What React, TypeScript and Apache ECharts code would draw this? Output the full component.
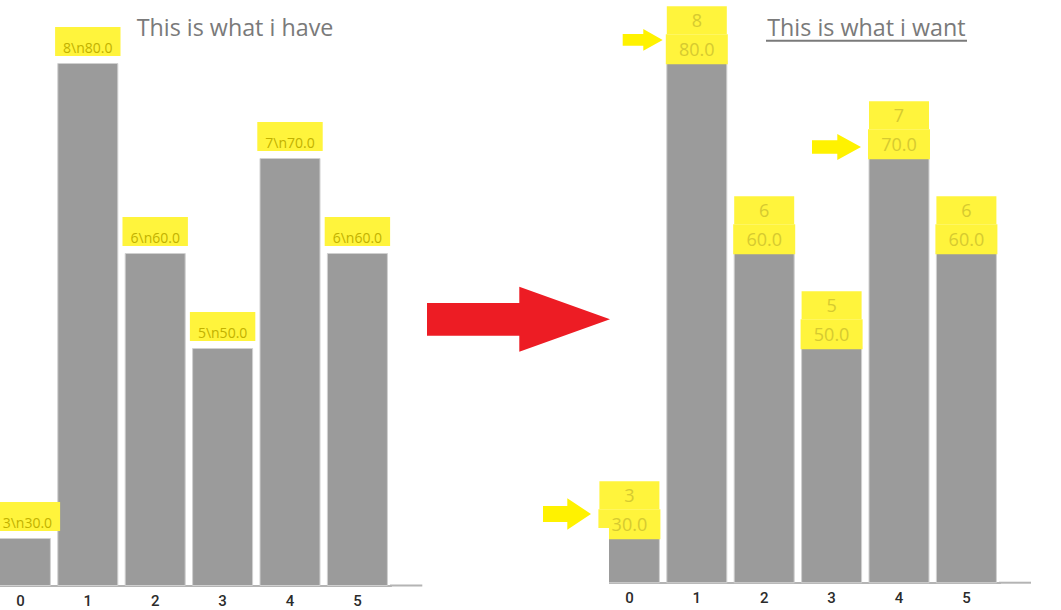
import React, { useEffect, useRef } from "react";
import * as echarts from "echarts";

const categories = ["0", "1", "2", "3", "4", "5"];
const values = [30, 80, 60, 50, 70, 60];
const counts = [3, 8, 6, 5, 7, 6];
const titleLeft = "This is what i have";
const titleRight = "This is what i want";

const BAR = "#9b9b9b";
const HL = "#fff43c";
const AXIS = "#b4b4b4";
const FONT = "'Open Sans', 'Noto Sans', sans-serif";
const OX = 40; // chart div extends 40px beyond the left edge of the page

export default function App() {
  const ref = useRef<HTMLDivElement>(null);
  useEffect(() => {
    if (!ref.current) return;
    const chart = echarts.init(ref.current, undefined, { renderer: "svg" });
    const xAxisBase = {
      type: "category",
      data: categories,
      boundaryGap: true,
      axisTick: { show: false },
      axisLine: { lineStyle: { color: AXIS, width: 2 } },
      axisLabel: { margin: 8, color: "#2b2b2b", fontSize: 15, fontWeight: 500, fontFamily: "Roboto, sans-serif" },
    };
    const yAxisBase = { type: "value", min: 25, max: 85, show: false, splitLine: { show: false } };
    const yellowArrow = (x0: number, x1: number, x2: number, cy: number, sh: number, hh: number) => ({
      type: "polygon",
      z: 100,
      shape: {
        points: [
          [x0 + OX, cy - sh], [x1 + OX, cy - sh], [x1 + OX, cy - hh], [x2 + OX, cy],
          [x1 + OX, cy + hh], [x1 + OX, cy + sh], [x0 + OX, cy + sh],
        ],
      },
      style: { fill: "#fff200" },
    });
    // first label of the left chart sits at the page edge: nudge it so it stays readable
    const leftData = values.map((v, i) => (i === 0 ? { value: v, label: { offset: [7, 0] } } : v));
    chart.setOption({
      animation: false,
      grid: [
        { left: -13.3 + OX, width: 404.4, top: 15.5, height: 570 },
        { left: 595.7 + OX, width: 404.4, top: 12.7, height: 570 },
      ],
      xAxis: [
        { ...xAxisBase, gridIndex: 0 },
        { ...xAxisBase, gridIndex: 1 },
      ],
      yAxis: [
        { ...yAxisBase, gridIndex: 0 },
        { ...yAxisBase, gridIndex: 1 },
      ],
      series: [
        {
          type: "bar",
          xAxisIndex: 0,
          yAxisIndex: 0,
          data: leftData,
          barWidth: 61,
          itemStyle: { color: BAR, borderColor: "#d0d0d0", borderWidth: 1 },
          label: {
            show: true,
            position: "top",
            distance: 7,
            formatter: (p: any) => counts[p.dataIndex] + "\\n" + values[p.dataIndex].toFixed(1),
            color: "#c2b100",
            fontSize: 14,
            fontFamily: FONT,
            backgroundColor: HL,
            padding: [13, 8, 2, 8],
          },
        },
        {
          type: "bar",
          xAxisIndex: 1,
          yAxisIndex: 1,
          data: values,
          barWidth: 61,
          itemStyle: { color: BAR, borderColor: "#d0d0d0", borderWidth: 1 },
          label: {
            show: true,
            position: "top",
            distance: -4,
            formatter: (p: any) => `{a|${counts[p.dataIndex]}}\n{b|${values[p.dataIndex].toFixed(1)}}`,
            rich: {
              a: { fontSize: 18, fontFamily: FONT, color: "#d6ca30", backgroundColor: HL, width: 60, height: 28, align: "center" },
              b: { fontSize: 18, fontFamily: FONT, color: "#d6ca30", backgroundColor: HL, width: 62, height: 30, align: "center" },
            },
          },
        },
      ],
      graphic: [
        // axis line extensions
        { type: "line", shape: { x1: 390 + OX, y1: 585.5, x2: 422.3 + OX, y2: 585.5 }, style: { stroke: AXIS, lineWidth: 2 } },
        { type: "line", shape: { x1: 999 + OX, y1: 582.7, x2: 1031 + OX, y2: 582.7 }, style: { stroke: AXIS, lineWidth: 2 } },
        // crop edge of right screenshot
        { type: "rect", z: 50, shape: { x: 594 + OX, y: 528, width: 15, height: 62 }, style: { fill: "#ffffff" } },
        // titles
        {
          type: "text",
          x: 235 + OX,
          y: 27,
          style: { text: titleLeft, fill: "#7a7a7a", font: `23.3px ${FONT}`, align: "center", verticalAlign: "middle" },
        },
        {
          type: "text",
          x: 866.4 + OX,
          y: 27,
          style: { text: titleRight, fill: "#7a7a7a", font: `23.3px ${FONT}`, align: "center", verticalAlign: "middle" },
        },
        { type: "line", shape: { x1: 766 + OX, y1: 40.7, x2: 967 + OX, y2: 40.7 }, style: { stroke: "#7a7a7a", lineWidth: 2 } },
        // red arrow
        {
          type: "polygon",
          z: 100,
          shape: {
            points: [
              [427 + OX, 303], [519.3 + OX, 303], [519.3 + OX, 286.7], [610 + OX, 319.3],
              [519.3 + OX, 351.7], [519.3 + OX, 335.7], [427 + OX, 335.7],
            ],
          },
          style: { fill: "#ed1c24" },
        },
        // yellow arrows
        yellowArrow(622.7, 643.3, 662.7, 39.9, 5.9, 10.9),
        yellowArrow(812, 837.3, 861, 147, 6.8, 13),
        yellowArrow(543, 567.3, 591, 514, 8, 15.8),
      ],
    });
    return () => chart.dispose();
  }, []);
  return <div ref={ref} style={{ position: "absolute", left: -OX, top: 0, width: 1061 + OX, height: 610 }} />;
}
